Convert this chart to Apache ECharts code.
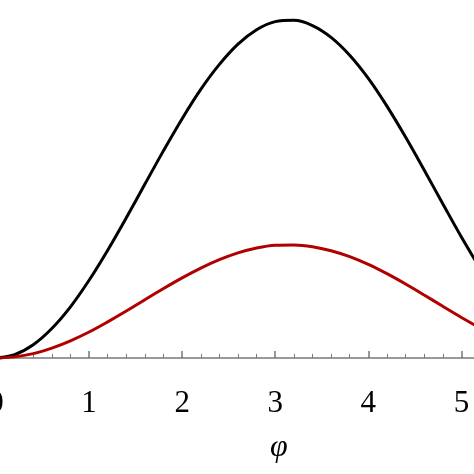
<!DOCTYPE html><html><head><meta charset="utf-8"><script src="https://cdn.jsdelivr.net/npm/echarts@6/dist/echarts.min.js"></script><style>html,body{margin:0;padding:0;background:#fff}#c{width:474px;height:474px}</style></head><body><div id="c"></div><script>
const phi=[0,0.2,0.4,0.6,0.8,1.0,1.2,1.4,1.6,1.8,2.0,2.2,2.4,2.6,2.8,3.0,3.2,3.4,3.6,3.8,4.0,4.2,4.4,4.6,4.8,5.0,5.2];
const black=[0,.02,.079,.175,.303,.46,.638,.83,1.029,1.227,1.416,1.589,1.737,1.857,1.942,1.99,1.998,1.967,1.897,1.791,1.654,1.49,1.307,1.112,.913,.716,.531];
const red=[0,.007,.026,.059,.102,.154,.214,.278,.345,.411,.474,.532,.582,.622,.651,.667,.669,.659,.635,.6,.554,.499,.438,.373,.306,.24,.178];
const xTicks=[0,1,2,3,4,5];
const ch=echarts.init(document.getElementById('c'));
const pair=a=>phi.map((p,i)=>[p,a[i]]);
ch.setOption({animation:false,
grid:{left:-4,right:-6,top:0,bottom:96,containLabel:false,outerBoundsMode:'none'},
xAxis:{type:'value',min:0,max:5.2,interval:1,
 axisLine:{lineStyle:{color:'#777',width:1.5}},
 axisTick:{inside:true,length:7,lineStyle:{color:'#777',width:1.5}},
 minorTick:{show:true,splitNumber:5,length:4,lineStyle:{color:'#777'}},
 splitLine:{show:false},
 axisLabel:{margin:10,fontFamily:'Liberation Serif',fontSize:31,color:'#000',formatter:v=>xTicks.includes(v)?String(v):''}},
yAxis:{type:'value',min:-0.118,max:2.118,show:false,splitLine:{show:false}},
graphic:[{type:'text',left:270,top:432,style:{text:'φ',font:'italic 32px "Liberation Serif"',fill:'#000'}}],
series:[
{type:'line',data:pair(black),smooth:0.35,symbol:'none',clip:true,lineStyle:{color:'#000',width:3}},
{type:'line',data:pair(red),smooth:0.35,symbol:'none',clip:true,lineStyle:{color:'#b00000',width:3}}]});
</script></body></html>
